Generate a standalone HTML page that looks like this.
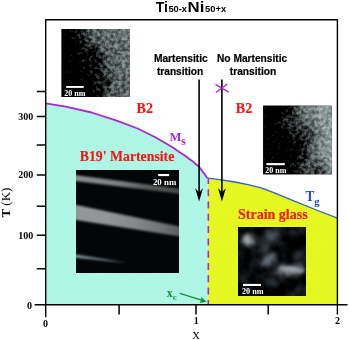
<!DOCTYPE html>
<html><head><meta charset="utf-8"><title>Ti50-xNi50+x phase diagram</title>
<style>
html,body{margin:0;padding:0;background:#fff;}
svg{display:block;}
.sf{font-family:"Liberation Serif",serif;font-weight:bold;}
.ss{font-family:"Liberation Sans",sans-serif;font-weight:bold;}
</style></head>
<body>
<svg width="349" height="340" viewBox="0 0 349 340">
<defs>
  <filter id="tem" x="0" y="0" width="100%" height="100%" filterUnits="objectBoundingBox" color-interpolation-filters="sRGB">
    <feTurbulence type="fractalNoise" baseFrequency="0.035" numOctaves="2" seed="7" result="lo"/>
    <feDisplacementMap in="SourceGraphic" in2="lo" scale="28" xChannelSelector="R" yChannelSelector="G" result="g"/>
    <feTurbulence type="fractalNoise" baseFrequency="0.27" numOctaves="3" seed="5" result="hi"/>
    <feColorMatrix in="hi" type="matrix" values="2.2 0 0 0 -0.6  2.2 0 0 0 -0.6  2.2 0 0 0 -0.6  0 0 0 0 1" result="n"/>
    <feComposite in="g" in2="n" operator="arithmetic" k1="-0.35" k2="1.3" k3="0.55" k4="-0.5" result="o"/>
    <feColorMatrix in="o" type="matrix" values="0.92 0 0 0 0  0 1 0 0 0  0 0 1 0 0  0 0 0 0 1"/>
  </filter>
  <linearGradient id="g1" gradientUnits="userSpaceOnUse" x1="61.6" y1="75" x2="130" y2="51">
    <stop offset="0" stop-color="#000000"/>
    <stop offset="0.3" stop-color="#0a0a0a"/>
    <stop offset="0.45" stop-color="#424242"/>
    <stop offset="0.6" stop-color="#808080"/>
    <stop offset="1" stop-color="#999999"/>
  </linearGradient>
  <clipPath id="c1"><rect x="61.6" y="29" width="68.4" height="68"/></clipPath>
  <clipPath id="c2"><rect x="263.2" y="105.7" width="68.6" height="68.6"/></clipPath>
  <linearGradient id="g2" gradientUnits="userSpaceOnUse" x1="263.2" y1="150" x2="331.8" y2="130">
    <stop offset="0" stop-color="#000000"/>
    <stop offset="0.32" stop-color="#0a0a0a"/>
    <stop offset="0.47" stop-color="#383838"/>
    <stop offset="0.62" stop-color="#737373"/>
    <stop offset="0.76" stop-color="#999999"/>
    <stop offset="0.9" stop-color="#b8b8b8"/>
    <stop offset="1" stop-color="#bdbdbd"/>
  </linearGradient>
  <filter id="blur2" x="-10%" y="-10%" width="120%" height="120%" color-interpolation-filters="sRGB">
    <feGaussianBlur in="SourceGraphic" stdDeviation="1.9" result="b"/>
    <feTurbulence type="fractalNoise" baseFrequency="0.09" numOctaves="3" seed="4" result="lo"/>
    <feDisplacementMap in="b" in2="lo" scale="7" xChannelSelector="R" yChannelSelector="G" result="d"/>
    <feGaussianBlur in="d" stdDeviation="0.9"/>
  </filter>
  <filter id="cloud" x="0" y="0" width="100%" height="100%" color-interpolation-filters="sRGB">
    <feTurbulence type="fractalNoise" baseFrequency="0.06" numOctaves="3" seed="9" result="t"/>
    <feColorMatrix in="t" type="matrix" values="0.36 0 0 0 -0.15  0.38 0 0 0 -0.15  0.4 0 0 0 -0.15  0 0 0 0 1"/>
  </filter>
  <filter id="blur1"><feGaussianBlur stdDeviation="0.8"/></filter>
  <linearGradient id="b1" gradientUnits="userSpaceOnUse" x1="76" y1="0" x2="179" y2="0">
    <stop offset="0" stop-color="#8a8e8e"/><stop offset="0.45" stop-color="#7c8080"/><stop offset="0.65" stop-color="#5c6060"/><stop offset="1" stop-color="#464a4a"/>
  </linearGradient>
  <linearGradient id="b2" gradientUnits="userSpaceOnUse" x1="76" y1="0" x2="179" y2="0">
    <stop offset="0" stop-color="#949898"/><stop offset="0.3" stop-color="#929696"/><stop offset="0.55" stop-color="#868a8a"/><stop offset="0.8" stop-color="#727676"/><stop offset="1" stop-color="#5c6060"/>
  </linearGradient>
  <linearGradient id="b3" gradientUnits="userSpaceOnUse" x1="76" y1="0" x2="128" y2="0">
    <stop offset="0" stop-color="#7c949c"/><stop offset="0.6" stop-color="#5a6c74"/><stop offset="1" stop-color="#0a0c0e"/>
  </linearGradient>
  <pattern id="hc" width="4" height="4" patternUnits="userSpaceOnUse" patternTransform="rotate(20)">
    <circle cx="1" cy="1" r="0.7" fill="#c4fbee"/><circle cx="3" cy="3" r="0.7" fill="#c4fbee"/>
  </pattern>
  <pattern id="hy" width="3" height="3" patternUnits="userSpaceOnUse" patternTransform="rotate(45)">
    <circle cx="1.5" cy="1.5" r="0.6" fill="#d2ee22"/>
  </pattern>
  <clipPath id="c3"><rect x="76" y="170" width="103" height="103"/></clipPath>
  <clipPath id="c4"><rect x="238.5" y="227.5" width="67.5" height="68.3"/></clipPath>
</defs>

<rect width="349" height="340" fill="#fff"/>

<!-- regions -->
<path d="M45.7 103.3 L65.8 106.6 L91.6 112.5 L117.4 120.8 L137.6 128.5 L155.3 137.2 L172.9 147.5 L180 152.5 L184.7 155.6 L192.1 160.9 L199.4 167.3 L203.8 173.1 L207.6 178.5 L207.9 304.8 L45.7 304.8 Z" fill="#acf5e4"/>
<path d="M45.7 103.3 L65.8 106.6 L91.6 112.5 L117.4 120.8 L137.6 128.5 L155.3 137.2 L172.9 147.5 L180 152.5 L184.7 155.6 L192.1 160.9 L199.4 167.3 L203.8 173.1 L207.6 178.5 L207.9 304.8 L45.7 304.8 Z" fill="url(#hc)" opacity="0.6"/>
<path d="M207.9 178.2 L221.5 179.9 L234.7 182 L248 184.6 L261.2 187.8 L274.4 192.8 L293.2 200.7 L316.5 210 L337.4 218.1 L337.4 304.8 L207.9 304.8 Z" fill="#e6f820"/>
<path d="M207.9 178.2 L221.5 179.9 L234.7 182 L248 184.6 L261.2 187.8 L274.4 192.8 L293.2 200.7 L316.5 210 L337.4 218.1 L337.4 304.8 L207.9 304.8 Z" fill="url(#hy)" opacity="0.7"/>

<!-- curves -->
<path d="M45.7 103.3 L65.8 106.6 L91.6 112.5 L117.4 120.8 L137.6 128.5 L155.3 137.2 L172.9 147.5 L180 152.5 L184.7 155.6 L192.1 160.9 L199.4 167.3 L203.8 173.1 L207.6 178.5" fill="none" stroke="#ac28cc" stroke-width="1.8" stroke-linejoin="round"/>
<path d="M207.9 178.2 L221.5 179.9 L234.7 182 L248 184.6 L261.2 187.8 L274.4 192.8 L293.2 200.7 L316.5 210 L337.4 218.1" fill="none" stroke="#3060d0" stroke-width="1.3" stroke-linejoin="round"/>
<path d="M208.3 179 L208.3 304" fill="none" stroke="#a626d4" stroke-width="1.6" stroke-dasharray="7 5.3" stroke-dashoffset="2.1"/>

<!-- frame -->
<path d="M45.7 317.2 L45.7 19.8 L337.4 19.8 L337.4 314.5" fill="none" stroke="#000" stroke-width="1.4" stroke-linejoin="round"/>
<path d="M34.7 304.8 L347.5 304.8" fill="none" stroke="#000" stroke-width="1.5"/>
<g stroke="#000" stroke-width="1.5">
  <path d="M36.8 268.8H45.7M36.8 235.3H45.7M36.8 206.2H45.7M36.8 174.9H45.7M36.8 145H45.7M36.8 116.6H45.7M36.8 91.5H45.7"/>
  <path d="M119.1 304.8V314.5M196 304.8V314.5M268.2 304.8V314.5"/>
</g>

<!-- tick labels -->
<g class="sf" font-size="10" fill="#000" text-anchor="end">
  <text x="33.2" y="120.4">300</text>
  <text x="33.2" y="178.2">200</text>
  <text x="33.2" y="238.8">100</text>
  <text x="32" y="308.6">0</text>
</g>
<g class="sf" font-size="10" fill="#000" text-anchor="middle">
  <text x="45.5" y="327.3">0</text>
  <text x="196.3" y="324">1</text>
  <text x="337.4" y="324">2</text>
</g>
<text x="196" y="339" font-family="'Liberation Serif',serif" font-size="10.5" text-anchor="middle" fill="#000">X</text>
<text transform="translate(10 202.6) rotate(-90)" text-anchor="middle" fill="#000" font-family="'Liberation Serif',serif" font-size="13"><tspan font-weight="bold">T</tspan> (K)</text>

<!-- title -->
<g class="ss" fill="#000"><text x="155.8" y="12.1" font-size="14" textLength="12.2" lengthAdjust="spacingAndGlyphs">Ti</text><text x="168.4" y="12.1" font-size="9.2" textLength="18.6" lengthAdjust="spacingAndGlyphs">50-x</text><text x="187.6" y="12.1" font-size="15.5" textLength="16.8" lengthAdjust="spacingAndGlyphs">Ni</text><text x="205" y="12.1" font-size="9.2" textLength="21.2" lengthAdjust="spacingAndGlyphs">50+x</text></g>

<!-- annotations -->
<g class="ss" font-size="10.2" fill="#000" stroke="#000" stroke-width="0.2" text-anchor="middle">
  <text x="180.8" y="61.6">Martensitic</text>
  <text x="180.1" y="74.6">transition</text>
  <text x="252.1" y="61.6">No Martensitic</text>
  <text x="253" y="74.5">transition</text>
</g>

<!-- arrows -->
<g stroke="#000" stroke-width="1.6" fill="none">
  <path d="M199.1 79.5V196"/>
  <path d="M221.9 79.5V196"/>
</g>
<path d="M199.1 201.5 L195.2 188.3 L199.1 192.3 L203 188.3 Z" fill="#000"/>
<path d="M221.9 201.5 L218 188.3 L221.9 192.3 L225.8 188.3 Z" fill="#000"/>
<path d="M215.4 84.4 L228.6 92.1 M227.2 84.1 L215.9 92.6" stroke="#a428d4" stroke-width="1.3" fill="none"/>

<!-- phase labels -->
<g class="sf" fill="#f01818" stroke="#f01818" stroke-width="0.15">
  <text x="136.6" y="112.5" font-size="14">B2</text>
  <text x="235.8" y="113" font-size="14">B2</text>
  <text x="79.7" y="160.8" font-size="13.8">B19' Martensite</text>
  <text x="238" y="219.2" font-size="14">Strain glass</text>
</g>
<text class="sf" x="169.4" y="141.1" font-size="12.6" fill="#a42ccc">M<tspan font-size="11.5" dy="3.7">s</tspan></text>
<text class="sf" x="305.5" y="200.6" font-size="14.5" fill="#2048c4" textLength="8.8" lengthAdjust="spacingAndGlyphs">T</text><text class="sf" x="314.2" y="204.6" font-size="10.8" fill="#2048c4">g</text>
<text class="sf" x="166.8" y="297" font-size="12" fill="#149034">x<tspan font-size="9" dy="2.5">c</tspan></text>
<path d="M179.8 293.3 L203 300.6" stroke="#149034" stroke-width="1.4" fill="none"/>
<path d="M206.6 301.8 L199.6 302.9 L201.3 300.1 L201 296.9 Z" fill="#149034"/>

<!-- image 1 -->
<g>
  <rect x="61.6" y="29" width="68.4" height="68" fill="#060808"/>
  <g clip-path="url(#c1)"><rect x="41.6" y="9" width="108.4" height="108" fill="url(#g1)" filter="url(#tem)"/></g>
  <rect x="66.2" y="86" width="17.5" height="1.9" fill="#fff"/>
  <text class="sf" x="64.3" y="95.8" font-size="8" fill="#fff">20 nm</text>
</g>
<!-- image 2 -->
<g>
  <rect x="263.2" y="105.7" width="68.6" height="68.6" fill="#060808"/>
  <g clip-path="url(#c2)"><rect x="243.2" y="85.7" width="108.6" height="108.6" fill="url(#g2)" filter="url(#tem)"/></g>
  <rect x="266.4" y="163.1" width="18.4" height="2.1" fill="#fff"/>
  <text class="sf" x="265.3" y="172.5" font-size="8" fill="#fff">20 nm</text>
</g>
<!-- image 3 -->
<g>
  <rect x="76" y="170" width="103" height="103" fill="#040506"/>
  <g clip-path="url(#c3)" filter="url(#blur1)">
    <path d="M70 174.3 L185 189.5 L185 194.4 L70 180.5 Z" fill="url(#b1)"/>
    <path d="M70 203.6 L185 227.5 L185 237.2 L70 218.9 Z" fill="url(#b2)"/>
    <path d="M70 253.5 L128 262.6 L128 263.6 L70 257.2 Z" fill="url(#b3)"/>
  </g>
  <rect x="158.2" y="174" width="10.9" height="2.1" fill="#fff"/>
  <text class="sf" x="152.9" y="185.3" font-size="8.9" fill="#fff">20 nm</text>
</g>
<!-- image 4 -->
<g>
  <rect x="238.5" y="227.5" width="67.5" height="68.3" fill="#0a0d10"/>
  <rect x="238.5" y="227.5" width="67.5" height="68.3" fill="#0a0d10" filter="url(#cloud)"/>
  <g clip-path="url(#c4)"><g filter="url(#blur2)">
    <ellipse cx="248.6" cy="239.8" rx="5.6" ry="6" fill="#a4acb0"/>
    <ellipse cx="271.4" cy="236" rx="8" ry="5.5" fill="#4c545c"/>
    <ellipse cx="266" cy="247.5" rx="4.5" ry="4.5" fill="#3c444a"/>
    <ellipse cx="268.5" cy="259.5" rx="9.5" ry="4.4" fill="#66707a" transform="rotate(-38 268.5 259.5)"/>
    <ellipse cx="290.5" cy="270.3" rx="14.5" ry="5.5" fill="#8c949c"/>
    <ellipse cx="289" cy="270" rx="9" ry="3" fill="#a0a8b0"/>
    <ellipse cx="298" cy="255" rx="6" ry="5" fill="#2a3238"/>
    <ellipse cx="271.5" cy="282.5" rx="7" ry="3.5" fill="#2c343a"/>
    <ellipse cx="293.5" cy="233" rx="7" ry="3.5" fill="#222a30"/>
  </g></g>
  <rect x="243" y="283.9" width="18" height="2.1" fill="#fff"/>
  <text class="sf" x="241.9" y="293.7" font-size="8.2" fill="#fff">20 nm</text>
</g>
</svg>
</body></html>
